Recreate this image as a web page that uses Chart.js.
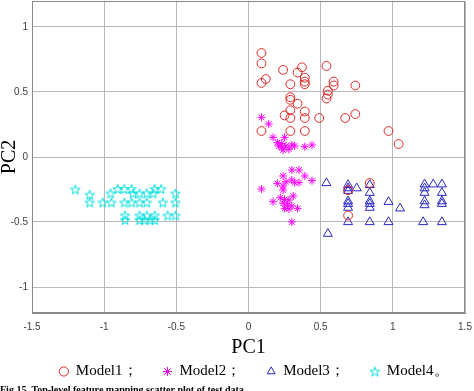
<!DOCTYPE html>
<html>
<head>
<meta charset="utf-8">
<script src="https://cdn.jsdelivr.net/npm/chart.js@4.4.0/dist/chart.umd.min.js"></script>
<style>
  body { margin: 0; background: #fff; }
  #wrap { width: 474px; height: 391px; }
</style>
</head>
<body>
<div id="wrap"><canvas id="chart" width="474" height="391"></canvas></div>
<script>
const xTicks = [-1.5, -1, -0.5, 0, 0.5, 1, 1.5];
const yTicks = [-1, -0.5, 0, 0.5, 1];
const seriesNames = ['Model1；', 'Model2；', 'Model3；', 'Model4。'];

const model1X = [0.09, 0.09, 0.24, 0.37, 0.34, 0.12, 0.09, 0.39, 0.39, 0.39, 0.29, 0.54, 0.59, 0.59, 0.74, 0.55, 0.55, 0.54, 0.29, 0.29, 0.34, 0.29, 0.39, 0.25, 0.29, 0.39, 0.49, 0.67, 0.74, 0.09, 0.29, 0.39, 0.97, 1.04, 0.84, 0.69, 0.69];
const model1Y = [0.80, 0.72, 0.67, 0.69, 0.65, 0.60, 0.57, 0.61, 0.58, 0.56, 0.56, 0.70, 0.58, 0.55, 0.55, 0.51, 0.48, 0.45, 0.46, 0.44, 0.41, 0.36, 0.35, 0.32, 0.30, 0.30, 0.30, 0.30, 0.33, 0.20, 0.20, 0.20, 0.20, 0.10, -0.20, -0.255, -0.45];

const model2X = [0.09, 0.14, 0.17, 0.25, 0.20, 0.23, 0.21, 0.23, 0.26, 0.30, 0.32, 0.24, 0.28, 0.39, 0.44, 0.30, 0.35, 0.24, 0.39, 0.44, 0.30, 0.26, 0.32, 0.35, 0.20, 0.24, 0.09, 0.24, 0.31, 0.22, 0.25, 0.28, 0.17, 0.24, 0.27, 0.30, 0.25, 0.28, 0.34, 0.30];
const model2Y = [0.305, 0.254, 0.151, 0.151, 0.110, 0.105, 0.085, 0.075, 0.085, 0.092, 0.085, 0.054, 0.059, 0.079, 0.092, -0.10, -0.10, -0.146, -0.146, -0.182, -0.177, -0.19, -0.197, -0.197, -0.203, -0.223, -0.246, -0.254, -0.30, -0.313, -0.326, -0.331, -0.344, -0.356, -0.369, -0.377, -0.395, -0.40, -0.395, -0.50];

const model3X = [0.54, 0.69, 0.69, 0.69, 0.75, 0.84, 0.84, 0.69, 0.69, 0.69, 0.84, 0.84, 0.84, 0.97, 1.05, 0.69, 0.84, 0.97, 1.21, 1.34, 1.22, 1.22, 1.22, 1.28, 1.34, 1.34, 1.22, 1.22, 1.34, 1.34, 0.55];
const model3Y = [-0.20, -0.215, -0.24, -0.26, -0.24, -0.215, -0.275, -0.34, -0.36, -0.39, -0.34, -0.36, -0.39, -0.345, -0.395, -0.50, -0.50, -0.50, -0.50, -0.50, -0.21, -0.24, -0.275, -0.21, -0.21, -0.275, -0.34, -0.37, -0.34, -0.36, -0.59];

const model4X = [-1.20, -1.10, -1.10, -1.01, -0.95, -0.956, -0.906, -0.86, -0.81, -0.65, -0.605, -0.80, -0.755, -0.705, -0.66, -0.506, -0.86, -0.81, -0.755, -0.705, -0.594, -0.506, -0.855, -0.755, -0.705, -0.65, -0.56, -0.506, -0.855, -0.755, -0.72, -0.68, -0.65];
const model4Y = [-0.25, -0.29, -0.35, -0.35, -0.35, -0.28, -0.246, -0.246, -0.246, -0.246, -0.246, -0.28, -0.28, -0.28, -0.28, -0.28, -0.35, -0.35, -0.35, -0.35, -0.35, -0.35, -0.45, -0.45, -0.45, -0.45, -0.45, -0.45, -0.485, -0.485, -0.485, -0.485, -0.485];

function toPoints(xs, ys) {
  return xs.map((x, i) => ({ x, y: ys[i] }));
}

// five-pointed star outline, Chart.js has no such pointStyle
function makeStar(color) {
  const c = document.createElement('canvas');
  c.width = 12;
  c.height = 12;
  const g = c.getContext('2d');
  g.strokeStyle = color;
  g.lineWidth = 1;
  g.beginPath();
  for (let i = 0; i < 10; i++) {
    const r = i % 2 ? 2 : 5;
    const a = -Math.PI / 2 + i * Math.PI / 5;
    g.lineTo(6 + r * Math.cos(a), 6.5 + r * Math.sin(a));
  }
  g.closePath();
  g.stroke();
  return c;
}

const frame = {
  id: 'frame',
  beforeDatasetsDraw(chart) {
    const { ctx, chartArea: a } = chart;
    ctx.save();
    ctx.strokeStyle = '#8a8a8a';
    ctx.lineWidth = 1;
    ctx.strokeRect(a.left + 0.5, a.top + 0.5, a.right - a.left - 1, a.bottom - a.top - 1);
    ctx.restore();
  }
};

const tickFont = { family: 'Liberation Sans', size: 10 };
const titleFont = { family: 'Liberation Serif', size: 20, lineHeight: 1.2 };

new Chart(document.getElementById('chart'), {
  type: 'scatter',
  data: {
    datasets: [
      {
        label: seriesNames[0],
        data: toPoints(model1X, model1Y),
        pointStyle: 'circle',
        pointRadius: 4.4,
        borderColor: '#e02828',
        backgroundColor: 'transparent',
        borderWidth: 1
      },
      {
        label: seriesNames[1],
        data: toPoints(model2X, model2Y),
        pointStyle: 'star',
        pointRadius: 4,
        borderColor: '#ff00ff',
        backgroundColor: 'transparent',
        borderWidth: 1
      },
      {
        label: seriesNames[2],
        data: toPoints(model3X, model3Y),
        pointStyle: 'triangle',
        pointRadius: 5.2,
        borderColor: '#2828c8',
        backgroundColor: 'transparent',
        borderWidth: 1
      },
      {
        label: seriesNames[3],
        data: toPoints(model4X, model4Y),
        pointStyle: makeStar('#00dede'),
        borderColor: '#00dede',
        backgroundColor: 'transparent',
        borderWidth: 1
      }
    ]
  },
  options: {
    responsive: false,
    animation: false,
    layout: { autoPadding: false, padding: 0 },
    scales: {
      x: {
        type: 'linear',
        min: -1.5,
        max: 1.5,
        afterBuildTicks: s => { s.ticks = xTicks.map(v => ({ value: v })); },
        afterFit: s => {
          s.height = 25.5;
          s.paddingLeft = 0;
          s.paddingRight = 9;
        },
        grid: { color: '#b8b8b8', drawTicks: false },
        border: { color: '#8a8a8a' },
        ticks: { font: tickFont, color: '#404040', padding: 8, callback: v => String(v) },
        title: { display: true, text: 'PC1', font: titleFont, color: '#000', padding: { top: 0, bottom: -21 } }
      },
      y: {
        type: 'linear',
        min: -1.2,
        max: 1.2,
        afterBuildTicks: s => { s.ticks = yTicks.map(v => ({ value: v })); },
        afterFit: s => {
          s.width = 32;
          s.paddingTop = 1;
          s.paddingBottom = 0;
        },
        grid: { color: '#b8b8b8', drawTicks: false },
        border: { color: '#8a8a8a' },
        ticks: { font: tickFont, color: '#404040', padding: 4, callback: v => String(v) },
        title: { display: true, text: 'PC2', font: titleFont, color: '#000', padding: { top: -2, bottom: 0 } }
      }
    },
    plugins: {
      legend: {
        position: 'bottom',
        align: 'end',
        labels: {
          usePointStyle: true,
          boxWidth: 9,
          boxHeight: 6.5,
          padding: 25.5,
          color: '#000',
          font: { family: 'Liberation Serif', size: 15 }
        }
      },
      title: {
        display: true,
        position: 'bottom',
        align: 'start',
        text: 'Fig 15. Top-level feature mapping scatter plot of test data',
        color: '#000',
        font: { family: 'Liberation Serif', size: 10, weight: 'bold' },
        padding: { top: -5, bottom: -5 }
      },
      tooltip: { enabled: false }
    }
  },
  plugins: [frame]
});
</script>
</body>
</html>
